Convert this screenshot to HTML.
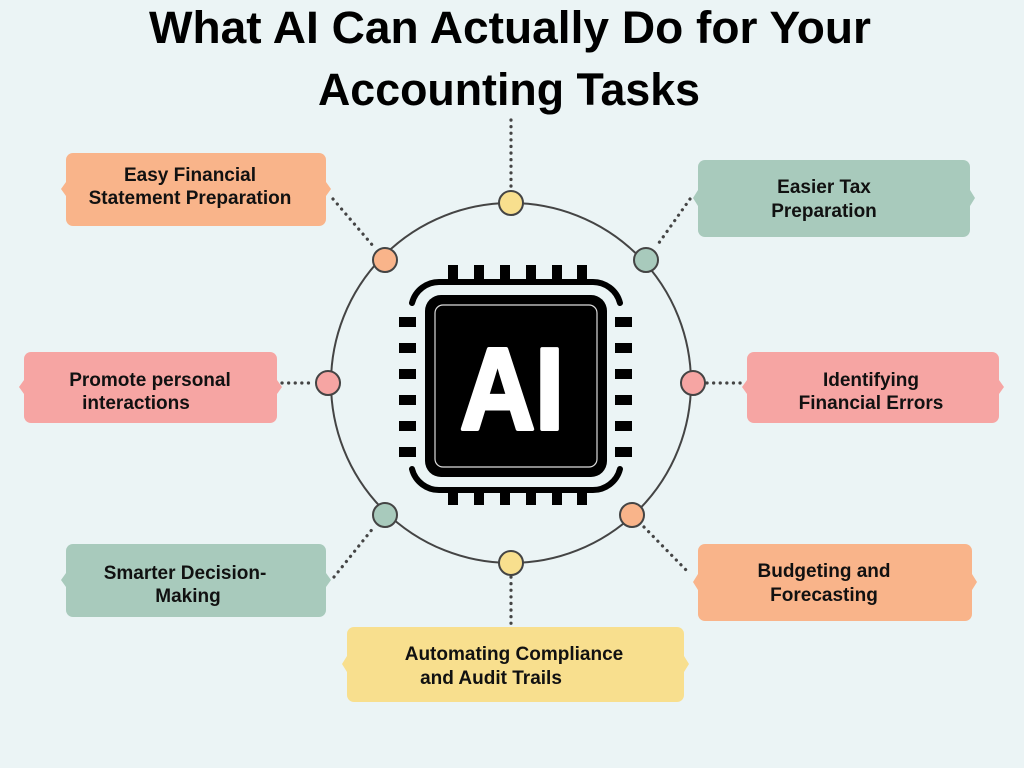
<!DOCTYPE html>
<html><head><meta charset="utf-8"><style>
html,body{margin:0;padding:0;background:#EBF4F5;}
svg{display:block;font-family:"Liberation Sans",sans-serif;}
</style></head><body>
<svg width="1024" height="768" viewBox="0 0 1024 768">
<rect width="1024" height="768" fill="#EBF4F5"/>
<g font-weight="bold" font-size="45" fill="#000" text-anchor="middle">
<text x="510" y="43" textLength="722" lengthAdjust="spacingAndGlyphs">What AI Can Actually Do for Your</text>
<text x="509" y="105" textLength="382" lengthAdjust="spacingAndGlyphs">Accounting Tasks</text>
</g>
<g stroke="#444" stroke-width="3.2" stroke-dasharray="0.1 6.5" stroke-linecap="round" fill="none">
<line x1="511" y1="120" x2="511" y2="190"/>
<line x1="333" y1="199" x2="374" y2="247"/>
<line x1="690" y1="199" x2="656" y2="247"/>
<line x1="282" y1="383" x2="314" y2="383"/>
<line x1="707" y1="383" x2="744" y2="383"/>
<line x1="334" y1="577" x2="374" y2="527"/>
<line x1="644" y1="527" x2="688" y2="572"/>
<line x1="511" y1="577" x2="511" y2="625"/>
</g>
<circle cx="511" cy="383" r="180" fill="none" stroke="#444" stroke-width="2"/>
<g stroke="#444" stroke-width="2">
<circle cx="511" cy="203" r="12" fill="#F8DF8E"/>
<circle cx="646" cy="260" r="12" fill="#A8CABC"/>
<circle cx="693" cy="383" r="12" fill="#F6A5A3"/>
<circle cx="632" cy="515" r="12" fill="#F9B48A"/>
<circle cx="511" cy="563" r="12" fill="#F8DF8E"/>
<circle cx="385" cy="515" r="12" fill="#A8CABC"/>
<circle cx="328" cy="383" r="12" fill="#F6A5A3"/>
<circle cx="385" cy="260" r="12" fill="#F9B48A"/>
</g>
<g fill="#000">
<rect x="448" y="265" width="10" height="14"/><rect x="474" y="265" width="10" height="14"/><rect x="500" y="265" width="10" height="14"/><rect x="526" y="265" width="10" height="14"/><rect x="552" y="265" width="10" height="14"/><rect x="577" y="265" width="10" height="14"/>
<rect x="448" y="491" width="10" height="14"/><rect x="474" y="491" width="10" height="14"/><rect x="500" y="491" width="10" height="14"/><rect x="526" y="491" width="10" height="14"/><rect x="552" y="491" width="10" height="14"/><rect x="577" y="491" width="10" height="14"/>
<rect x="399" y="317" width="17" height="10"/><rect x="399" y="343" width="17" height="10"/><rect x="399" y="369" width="17" height="10"/><rect x="399" y="395" width="17" height="10"/><rect x="399" y="421" width="17" height="10"/><rect x="399" y="447" width="17" height="10"/>
<rect x="615" y="317" width="17" height="10"/><rect x="615" y="343" width="17" height="10"/><rect x="615" y="369" width="17" height="10"/><rect x="615" y="395" width="17" height="10"/><rect x="615" y="421" width="17" height="10"/><rect x="615" y="447" width="17" height="10"/>
<rect x="425" y="295" width="182" height="182" rx="16"/>
</g>
<g fill="none" stroke="#000" stroke-width="6" stroke-linecap="round">
<path d="M412 303 A28 28 0 0 1 440 282 L592 282 A28 28 0 0 1 620 303"/>
<path d="M412 469 A28 28 0 0 0 440 490 L592 490 A28 28 0 0 0 620 469"/>
</g>
<rect x="435" y="305" width="162" height="162" rx="8" fill="none" stroke="#ddd" stroke-width="1.2"/>
<text x="512" y="429" text-anchor="middle" font-weight="bold" font-size="116" fill="#fff" stroke="#fff" stroke-width="4" stroke-linejoin="round" textLength="104" lengthAdjust="spacingAndGlyphs">AI</text>
<g>
<rect x="66" y="153" width="260" height="73" rx="7" fill="#F9B48A"/>
<path d="M66 182 L61 189 L66 196 Z M326 182 L331 189 L326 196 Z" fill="#F9B48A"/>
<rect x="698" y="160" width="272" height="77" rx="7" fill="#A8CABC"/>
<path d="M698 190 L693 198 L698 206 Z M970 190 L975 198 L970 206 Z" fill="#A8CABC"/>
<rect x="24" y="352" width="253" height="71" rx="7" fill="#F6A5A3"/>
<path d="M24 380 L19 387 L24 394 Z M277 380 L282 387 L277 394 Z" fill="#F6A5A3"/>
<rect x="747" y="352" width="252" height="71" rx="7" fill="#F6A5A3"/>
<path d="M747 380 L742 387 L747 394 Z M999 380 L1004 387 L999 394 Z" fill="#F6A5A3"/>
<rect x="66" y="544" width="260" height="73" rx="7" fill="#A8CABC"/>
<path d="M66 573 L61 580 L66 587 Z M326 573 L331 580 L326 587 Z" fill="#A8CABC"/>
<rect x="698" y="544" width="274" height="77" rx="7" fill="#F9B48A"/>
<path d="M698 574 L693 582 L698 590 Z M972 574 L977 582 L972 590 Z" fill="#F9B48A"/>
<rect x="347" y="627" width="337" height="75" rx="7" fill="#F8DF8E"/>
<path d="M347 656 L342 664 L347 672 Z M684 656 L689 664 L684 672 Z" fill="#F8DF8E"/>
</g>
<g font-weight="bold" font-size="19" fill="#111" text-anchor="middle">
<text x="190" y="181">Easy Financial</text>
<text x="190" y="204">Statement Preparation</text>
<text x="824" y="193">Easier Tax</text>
<text x="824" y="217">Preparation</text>
<text x="150" y="386">Promote personal</text>
<text x="136" y="409">interactions</text>
<text x="871" y="386">Identifying</text>
<text x="871" y="409">Financial Errors</text>
<text x="185" y="579">Smarter Decision-</text>
<text x="188" y="602">Making</text>
<text x="824" y="577">Budgeting and</text>
<text x="824" y="601">Forecasting</text>
<text x="514" y="660">Automating Compliance</text>
<text x="491" y="684">and Audit Trails</text>
</g>
</svg>
</body></html>
